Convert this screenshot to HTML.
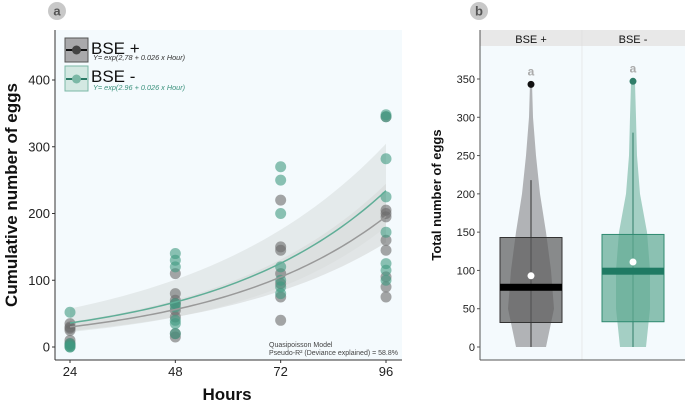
<!DOCTYPE html>
<html><head><meta charset="utf-8"><style>
body{margin:0;background:#fff;font-family:"Liberation Sans",sans-serif}
svg{display:block}
</style></head><body>
<svg id="s" width="685" height="403" viewBox="0 0 685 403" font-family="Liberation Sans, sans-serif">
<g>
<circle cx="57" cy="11" r="9" fill="#c8c8c8"/>
<text x="57" y="15.5" text-anchor="middle" font-size="13" font-weight="bold" fill="#555">a</text>
<rect x="55" y="30" width="347" height="330" fill="#f4fafd"/>
<g id="ga"></g>
<line x1="55" y1="30" x2="55" y2="360" stroke="#333" stroke-width="1"/>
<line x1="55" y1="360" x2="402" y2="360" stroke="#333" stroke-width="1"/>
<text transform="translate(17,195) rotate(-90)" text-anchor="middle" font-size="17" font-weight="bold" fill="#111">Cumulative number of eggs</text>
<text x="227" y="400" text-anchor="middle" font-size="17" font-weight="bold" fill="#111">Hours</text>
<text x="269" y="347" font-size="7" fill="#444">Quasipoisson Model</text>
<text x="269" y="355" font-size="7" fill="#444">Pseudo-R² (Deviance explained) = 58.8%</text>
<g>
<rect x="65" y="38" width="23" height="24" fill="#a9a9ab" stroke="#555"/>
<line x1="66" y1="50" x2="87" y2="50" stroke="#111" stroke-width="2"/>
<circle cx="76.5" cy="50" r="4.5" fill="#444"/>
<text x="91" y="54" font-size="17" fill="#111">BSE +</text>
<text x="93" y="60" font-size="7.3" font-style="italic" fill="#333">Y= exp(2,78 + 0.026 x Hour)</text>
<rect x="65" y="66" width="23" height="25" fill="#d3e8e2" stroke="#7bb8a6"/>
<line x1="66" y1="79" x2="87" y2="79" stroke="#2b7a66" stroke-width="2"/>
<circle cx="76.5" cy="79" r="4.5" fill="#7bb8a6"/>
<text x="91" y="82" font-size="17" fill="#111">BSE -</text>
<text x="93" y="90" font-size="7.3" font-style="italic" fill="#3a917c">Y= exp(2.96 + 0.026 x Hour)</text>
</g>
</g>
<g>
<circle cx="479" cy="11" r="9" fill="#c8c8c8"/>
<text x="479" y="15.5" text-anchor="middle" font-size="13" font-weight="bold" fill="#555">b</text>
<rect x="480" y="46" width="205" height="314" fill="#f4fafd"/>
<rect x="480" y="30" width="205" height="16" fill="#e8e8e8"/>
<line x1="582" y1="30" x2="582" y2="360" stroke="#ddd" stroke-width="0.6"/>
<text x="531" y="43" text-anchor="middle" font-size="11" fill="#111">BSE +</text>
<text x="633" y="43" text-anchor="middle" font-size="11" fill="#111">BSE -</text>
<g id="gb"></g>
<line x1="480" y1="30" x2="480" y2="360" stroke="#555" stroke-width="1"/>
<line x1="480" y1="360" x2="685" y2="360" stroke="#555" stroke-width="1"/>
<text transform="translate(441,195) rotate(-90)" text-anchor="middle" font-size="13" font-weight="bold" fill="#111">Total number of eggs</text>
</g>
</svg>
<script>
// ---- Panel a data ----
const hours=[24,48,72,96];
const grayPts=[[35,30,28,25,10,5,3],[110,80,70,65,55,45,20,15],[220,150,145,110,95,75,40],[345,205,200,195,160,145,105,90,75]];
const tealPts=[[52,5,2,0,0],[140,130,120,65,60,40,35,20],[270,250,200,120,100,90,80],[348,345,282,225,172,125,115,100]];
const grayFit=[2.78,0.026];
const tealFit=[2.96,0.026];
const yTicksA=[0,100,200,300,400];
// ---- Panel b data ----
const groups=["BSE +","BSE -"];
const boxQ1=[32,33],boxMed=[78,99],boxQ3=[143,147],whiskLo=[0,0],whiskHi=[218,280],outlier=[343,347],means=[93,111];
const violinY=[0,50,100,150,200,250,300,345];
const violinW1=[15,23,20,15,9,5,2,1];
const violinW2=[13,17,17,14,7,4,3,2];
const yTicksB=[0,50,100,150,200,250,300,350];

const NS="http://www.w3.org/2000/svg";
function mk(p,t,a){const e=document.createElementNS(NS,t);for(const k in a)e.setAttribute(k,a[k]);p.appendChild(e);return e;}
const xA=h=>70+(h-24)*(316/72);
const yA=v=>347-v*0.6675;
const ga=document.getElementById('ga');
yTicksA.forEach(t=>{
  mk(ga,'line',{x1:52,x2:55,y1:yA(t),y2:yA(t),stroke:'#333'});
  const tx=mk(ga,'text',{x:50,y:yA(t)+4.5,'text-anchor':'end','font-size':13,fill:'#222'});tx.textContent=t;
  
  
});
hours.forEach(h=>{
  mk(ga,'line',{x1:xA(h),x2:xA(h),y1:360,y2:363,stroke:'#333'});
  const tx=mk(ga,'text',{x:xA(h),y:376,'text-anchor':'middle','font-size':13,fill:'#222'});tx.textContent=h;
  
  
});
function band(fit,lo,hi,col,op,name){
  let up=[],dn=[];
  for(let h=24;h<=96;h+=2){const m=Math.exp(fit[0]+fit[1]*h);const f=1+lo+(h-24)/72*hi;up.push(xA(h)+','+yA(m*f));dn.unshift(xA(h)+','+yA(m/f));}
  const p=mk(ga,'polygon',{points:up.concat(dn).join(' '),fill:col,'fill-opacity':op});
  
  
}
band(tealFit,0.6,-0.3,'#dde3e2',0.7,'ci-band-bse-minus');
band(grayFit,0.25,0.0,'#d9dbdc',0.7,'ci-band-bse-plus');
function pts(arr,col,name){arr.forEach((vs,i)=>vs.forEach(v=>{
  const c=mk(ga,'circle',{cx:xA(hours[i]),cy:yA(v),r:5.5,fill:col,'fill-opacity':0.6});
  
  
}));}
pts(grayPts,'#6b6b6b','point-bse-plus');
pts(tealPts,'#3f9a80','point-bse-minus');
function curve(fit,col,name){let d='';for(let h=24;h<=96;h+=1){d+=(h==24?'M':'L')+xA(h)+' '+yA(Math.exp(fit[0]+fit[1]*h));}
  const p=mk(ga,'path',{d:d,fill:'none',stroke:col,'stroke-width':1.5});
  
  
}
curve(grayFit,'#999','fit-line-bse-plus');
curve(tealFit,'#5fae97','fit-line-bse-minus');

// Panel b
const gb=document.getElementById('gb');
const yB=v=>347-v*(268/350);
const cx=[531,633];
yTicksB.forEach(t=>{
  mk(gb,'line',{x1:477,x2:480,y1:yB(t),y2:yB(t),stroke:'#555'});
  const tx=mk(gb,'text',{x:475,y:yB(t)+4,'text-anchor':'end','font-size':11,fill:'#222'});tx.textContent=t;
  
  
});
const cols=[{vio:'#8e8e90',box:'#5a5a5a',edge:'#333',med:'#000',out:'#111'},{vio:'#7ab9a6',box:'#5ea891',edge:'#2f8a70',med:'#1f7a63',out:'#2f7d69'}];
[violinW1,violinW2].forEach((w,i)=>{
  const c=cx[i],col=cols[i];
  let r=[],l=[];
  violinY.forEach((v,k)=>{r.push((c+w[k])+','+yB(v));l.unshift((c-w[k])+','+yB(v));});
  const vi=mk(gb,'polygon',{points:r.concat(l).join(' '),fill:col.vio,'fill-opacity':0.65,'stroke-linejoin':'round'});
  
  
  mk(gb,'line',{x1:c,x2:c,y1:yB(whiskLo[i]),y2:yB(whiskHi[i]),stroke:i?'#2f7d69':'#333','stroke-width':1});
  const bx=mk(gb,'rect',{x:c-31,y:yB(boxQ3[i]),width:62,height:yB(boxQ1[i])-yB(boxQ3[i]),fill:col.box,'fill-opacity':0.7,stroke:col.edge,'stroke-width':1});
  
  
  const md=mk(gb,'rect',{x:c-31,y:yB(boxMed[i])-3.5,width:62,height:7,fill:col.med});
  
  
  const mn=mk(gb,'circle',{cx:c,cy:yB(means[i]),r:3.5,fill:'#fff'});
  
  
  const o=mk(gb,'circle',{cx:c,cy:yB(outlier[i]),r:3.5,fill:col.out});
  
  
  const lt=mk(gb,'text',{x:c,y:yB(outlier[i])-9,'text-anchor':'middle','font-size':12,'font-weight':'bold',fill:'#aaa'});lt.textContent='a';
  
  
});
</script>
</body></html>
